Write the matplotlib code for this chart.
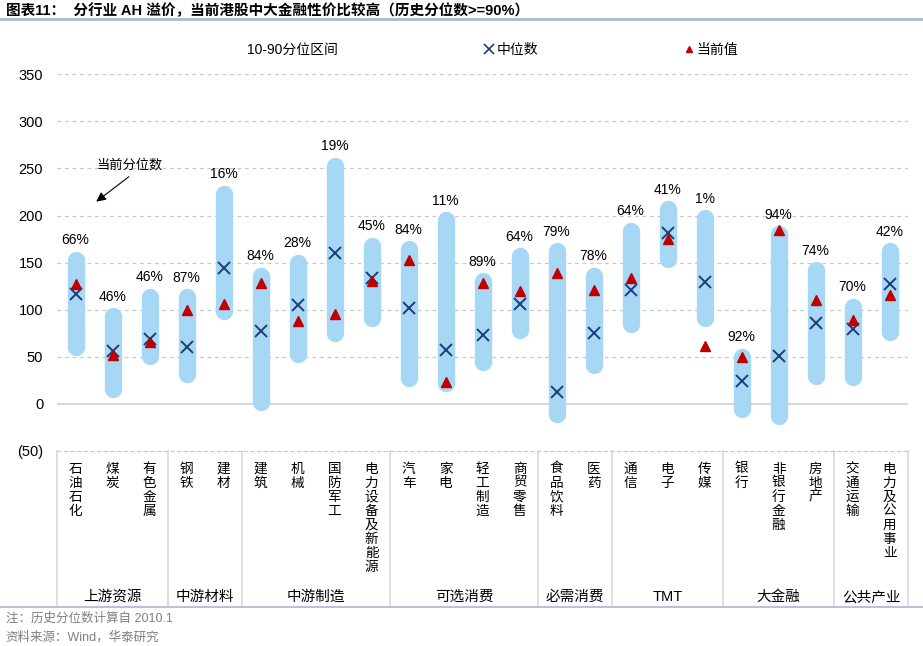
import matplotlib
matplotlib.use("Agg")
import matplotlib.pyplot as plt
from matplotlib.lines import Line2D
from matplotlib.ticker import FuncFormatter

plt.rcParams["font.family"] = ["Liberation Sans", "Noto Sans CJK SC"]

# Daten: Branchen, Gruppen und AH-Prämie (10./90. Perzentil, Median, aktuell)
branchen = ["石油石化", "煤炭", "有色金属", "钢铁", "建材", "建筑", "机械", "国防军工",
            "电力设备及新能源", "汽车", "家电", "轻工制造", "商贸零售", "食品饮料", "医药",
            "通信", "电子", "传媒", "银行", "非银行金融", "房地产", "交通运输", "电力及公用事业"]
gruppen = ["上游资源", "中游材料", "中游制造", "可选消费", "必需消费", "TMT", "大金融", "公共产业"]
gruppen_anzahl = [3, 2, 4, 4, 2, 3, 3, 2]

p90 = [153, 93, 114, 113, 223, 136, 150, 253, 168, 164, 195, 130, 157, 162, 136,
       184, 207, 197, 50, 180, 142, 103, 162]
p10 = [60, 16, 51, 32, 99, 2, 53, 75, 91, 27, 22, 45, 78, -11, 41,
       85, 154, 91, -5, -13, 30, 29, 76]
median = [117, 56, 69, 60, 144, 77, 105, 160, 134, 102, 57, 73, 106, 13, 75,
          121, 181, 129, 24, 51, 86, 80, 127]
aktuell = [127, 52, 66, 100, 106, 128, 88, 95, 131, 153, 23, 128, 120, 139, 121,
           134, 175, 61, 50, 185, 110, 89, 116]
perzentil = ["66%", "46%", "46%", "87%", "16%", "84%", "28%", "19%", "45%", "84%", "11%",
             "89%", "64%", "79%", "78%", "64%", "41%", "1%", "92%", "94%", "74%", "70%", "42%"]

x = list(range(len(branchen)))

fig = plt.figure(figsize=(9.23, 6.46), dpi=100)
ax = fig.add_axes([0.0618, 0.3019, 0.922, 0.5831])

# Gitterlinien
for v in [50, 100, 150, 200, 250, 300, 350]:
    ax.axhline(v, color="#c8c8c8", lw=0.9, ls=(0, (3, 3)), zorder=0)
ax.axhline(0, color="#d0d0d0", lw=1.2, zorder=0)

# 10-90 Bereich als Balken mit runden Enden
ax.vlines(x, p10, p90, color="#a6d8f5", lw=12.5, capstyle="round", zorder=2)
ax.plot(x, median, ls="none", marker="x", ms=8, mew=1.4, color="#1f3c7a", zorder=3)
ax.plot(x, aktuell, ls="none", marker="^", ms=7, color="#c00000", zorder=4)

for i in x:
    ax.annotate(perzentil[i], (i, p90[i]), xytext=(0, 14), textcoords="offset points",
                ha="center", va="center", fontsize=10)

ax.set_xlim(-0.5, len(branchen) - 0.5)
ax.set_ylim(-50, 350)
ax.set_yticks([-50, 0, 50, 100, 150, 200, 250, 300, 350])
ax.yaxis.set_major_formatter(FuncFormatter(lambda v, p: f"({abs(int(v))})" if v < 0 else f"{int(v)}"))
ax.tick_params(axis="y", length=0, labelsize=10.5, pad=10)
ax.set_xticks([])
for s in ["top", "right", "left"]:
    ax.spines[s].set_visible(False)
ax.spines["bottom"].set_color("#c8c8c8")
ax.spines["bottom"].set_linestyle((0, (3, 3)))

# Annotation "当前分位数"
ax.annotate("", xy=(0.5, 213), xytext=(1.5, 243),
            arrowprops=dict(arrowstyle="-|>", color="black", lw=0.8, mutation_scale=14))
ax.text(1.45, 253, "当前分位数", ha="center", va="center", fontsize=9.5)

# Branchen- und Gruppenbeschriftung unter der Achse
trans = ax.get_xaxis_transform()
for i, name in enumerate(branchen):
    ax.text(i, -0.028, "\n".join(name), transform=trans, ha="center", va="top",
            fontsize=9.8, linespacing=1.0)

start = 0
for g, n in zip(gruppen, gruppen_anzahl):
    ax.plot([start - 0.5, start - 0.5], [0, -0.408], transform=trans, color="#d9d9d9",
            lw=1.2, clip_on=False)
    ax.text(start + (n - 1) / 2, -0.388, g, transform=trans, ha="center", va="center",
            fontsize=10.5)
    start += n
ax.plot([start - 0.5, start - 0.5], [0, -0.408], transform=trans, color="#d9d9d9",
        lw=1.2, clip_on=False)

# Legende
handles = [Line2D([], [], ls="none"),
           Line2D([], [], ls="none", marker="x", ms=7, mew=1.2, color="#1f3c7a"),
           Line2D([], [], ls="none", marker="^", ms=5, color="#c00000")]
fig.legend(handles, ["10-90分位区间", "中位数", "当前值"], loc="center",
           bbox_to_anchor=(0.527, 0.923), ncol=3, frameon=False, fontsize=10,
           handlelength=0.7, handletextpad=0.2, columnspacing=10.5)

# Titel, Linien und Fußnoten
fig.text(0.006, 0.984, "图表11：  分行业 AH 溢价，当前港股中大金融性价比较高（历史分位数>=90%）",
         ha="left", va="center", fontsize=10.5, fontweight="bold")
fig.add_artist(Line2D([0.0, 1.0], [0.970, 0.970], color="#aab8cf", lw=2))
fig.add_artist(Line2D([0.0, 1.0], [0.060, 0.060], color="#aab8cf", lw=1.2))
fig.text(0.006, 0.042, "注：历史分位数计算自 2010.1", ha="left", va="center", fontsize=9, color="#808080")
fig.text(0.006, 0.014, "资料来源：Wind，华泰研究", ha="left", va="center", fontsize=9, color="#808080")

fig.savefig("out.png", dpi=100)
